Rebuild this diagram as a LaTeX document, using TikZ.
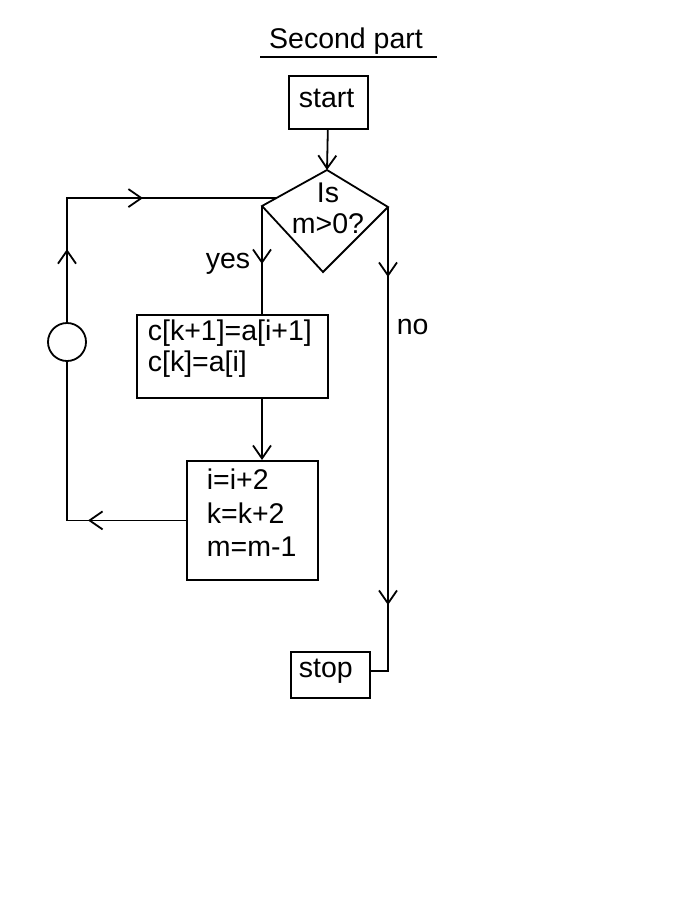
\documentclass[tikz,border=0pt]{standalone}
\usepackage{fontspec}
\setmainfont{Liberation Sans}
\usetikzlibrary{positioning, calc, arrows.meta, decorations.markings}

\begin{document}
\begin{tikzpicture}[x=1pt, y=-1pt, line width=1.8pt, font=\fontsize{28.5}{31}\selectfont,
  box/.style = {draw, anchor=north west, inner ysep=0pt, align=left},
  barb/.tip = {Straight Barb[length=13pt, width=18pt]},
  mid/.style = {postaction={decorate, decoration={markings, mark=at position #1 with {\arrow{barb}}}}}]
\useasboundingbox (0,0) rectangle (700,900);

% title
\node (title) [anchor=base] at (346,48) {Second part};
\draw (260,57) -- (437,57);

% boxes
\node[box] (start) [inner xsep=10pt, text width=59pt, text height=32pt, text depth=21pt] at (288,75) {start};
\node[box] (b1) [inner xsep=11pt, text width=169pt, text height=26pt, text depth=57pt] at (136,314) {c[k+1]=a[i+1]\\c[k]=a[i]};
\node[box] (b2) [inner xsep=20pt, text width=91pt, text height=29pt, text depth=90pt] at (186,460) {i=i+2\\[2.5pt]k=k+2\\[2.5pt]m=m-1};
\node[box] (stop) [inner xsep=8pt, text width=63pt, text height=26pt, text depth=20pt] at (290,651) {stop};

% decision
\coordinate (dtop) at (327,170);
\coordinate (dleft) at (262,206);
\coordinate (dright) at (388,207);
\coordinate (dbot) at (323,272);
\draw (dtop) -- (dright) -- (dbot) -- (dleft) -- cycle;
\node (dtext) [anchor=base, text width=80pt, align=center, inner sep=0pt] at (328,202) {Is\\m>0?};
\coordinate (join) at ($(dleft)!0.22!(dtop)$);

\node (conn) [draw, circle, minimum size=38pt, inner sep=0pt] at (67,342) {};

\node (yes) [anchor=base west, inner sep=0pt] at (205,268) {yes};
\node (no) [anchor=base west, inner sep=0pt] at (396,334) {no};

% connectors
\draw[-barb] (start) -- (dtop);
\draw[mid=58pt] (dleft) -- (b1.north -| dleft);
\draw[-barb] (b1.south -| dleft) -- (b2.north -| dleft);
\draw[mid=98pt] (b2.west) -| (conn.south);
\draw[mid=73pt, mid=200pt] (conn.north) |- (join);
\draw[mid=70pt, mid=398pt] (dright) |- ([yshift=4pt]stop.east);

\end{tikzpicture}
\end{document}
